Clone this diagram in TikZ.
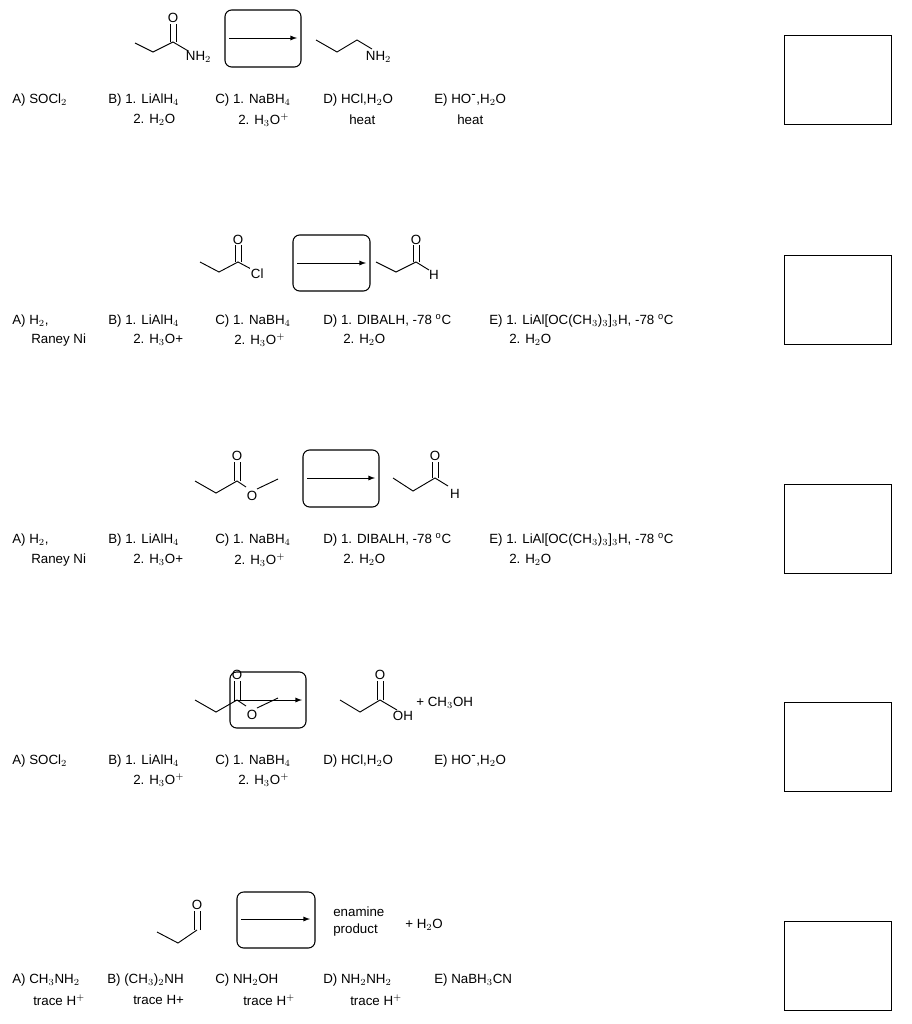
\documentclass[tikz,border=0pt]{standalone}
\usepackage{fontspec}
\setmainfont{Liberation Sans}
\begin{document}
\begin{tikzpicture}[x=0.75pt,y=-0.75pt,
  t/.style={anchor=west,inner sep=0pt,font=\fontsize{10}{12}\selectfont,align=left},
  atm/.style={inner sep=0.5pt,font=\fontsize{10}{12}\selectfont,fill=white},
  bond/.style={line width=0.7pt},
  rbox/.style={draw,line width=0.8pt,rounded corners=5pt},
  ans/.style={draw,line width=0.9pt},
  rarr/.style={-latex,line width=0.7pt}]
\useasboundingbox (0,0) rectangle (911,1024);
% answer boxes
\node[ans,minimum width=80pt,minimum height=67pt] (ab1) at (838,80) {};
\node[ans,minimum width=80pt,minimum height=67pt] (ab2) at (838,300) {};
\node[ans,minimum width=80pt,minimum height=67pt] (ab3) at (838,529) {};
\node[ans,minimum width=80pt,minimum height=67pt] (ab4) at (838,747) {};
\node[ans,minimum width=80pt,minimum height=67pt] (ab5) at (838,966) {};

% ===== Row 1 =====
\draw[bond] (135,43)--(153,52)--(173,42)--(190,52);
\draw[bond] (170,42)--(170,24) (176,42)--(176,24);
\node[atm] (o1) at (173,18) {O};
\node[atm,anchor=west] (n1) at (185,57) {NH$_2$};
\draw[rbox] (225,10) rectangle (301,67);
\coordinate (a1s) at (229,38); \coordinate (a1e) at (297,38);
\draw[rarr] (a1s)--(a1e);
\draw[bond] (316,40)--(337,52)--(357,40)--(372,49);
\node[atm,anchor=west] (n2) at (365,57) {NH$_2$};
\node[t] at (12,100) {A) SOCl$_2$};
\node[t] at (108,100) {B) 1. LiAlH$_4$};
\node[t] at (133,120) {2. H$_2$O};
\node[t] at (215,100) {C) 1. NaBH$_4$};
\node[t] at (238,120) {2. H$_3$O$^+$};
\node[t] at (323,100) {D) HCl,H$_2$O};
\node[t] at (349,120) {heat};
\node[t] at (434,100) {E) HO$^{\mbox{-}}$,H$_2$O};
\node[t] at (457,120) {heat};

% ===== Row 2 =====
\draw[bond] (200,262)--(219,272)--(238,262)--(253,270);
\draw[bond] (235,262)--(235,245) (241,262)--(241,245);
\node[atm] (o2) at (238,240) {O};
\node[atm,anchor=west] (cl) at (250,274) {Cl};
\draw[rbox] (293,235) rectangle (370,291);
\draw[rarr] (297,263)--(366,263);
\draw[bond] (376,262)--(396,272)--(416,262)--(429,270);
\draw[bond] (413,262)--(413,245) (419,262)--(419,245);
\node[atm] (o3) at (416,240) {O};
\node[atm] (h2) at (434,275) {H};
\node[t] at (12,321) {A) H$_2$,};
\node[t] at (31,340) {Raney Ni};
\node[t] at (108,321) {B) 1. LiAlH$_4$};
\node[t] at (133,340) {2. H$_3$O+};
\node[t] at (215,321) {C) 1. NaBH$_4$};
\node[t] at (234,340) {2. H$_3$O$^+$};
\node[t] at (323,321) {D) 1. DIBALH, -78 $^{\mathrm{o}}$C};
\node[t] at (343,340) {2. H$_2$O};
\node[t] at (489,321) {E) 1. LiAl[OC(CH$_3$)$_3$]$_3$H, -78 $^{\mathrm{o}}$C};
\node[t] at (509,340) {2. H$_2$O};

% ===== Row 3 =====
\draw[bond] (195,481)--(216,493)--(237,481)--(246,487);
\draw[bond] (257,489)--(278,479);
\draw[bond] (234,481)--(234,462) (240,481)--(240,462);
\node[atm] (o4) at (237,456) {O};
\node[atm] (o5) at (252,496) {O};
\draw[rbox] (303,450) rectangle (379,507);
\draw[rarr] (307,478)--(375,478);
\draw[bond] (393,478)--(413,491)--(435,478)--(448,486);
\draw[bond] (432,478)--(432,462) (438,478)--(438,462);
\node[atm] (o6) at (435,456) {O};
\node[atm] (h3) at (455,494) {H};
\node[t] at (12,540) {A) H$_2$,};
\node[t] at (31,560) {Raney Ni};
\node[t] at (108,540) {B) 1. LiAlH$_4$};
\node[t] at (133,560) {2. H$_3$O+};
\node[t] at (215,540) {C) 1. NaBH$_4$};
\node[t] at (234,560) {2. H$_3$O$^+$};
\node[t] at (323,540) {D) 1. DIBALH, -78 $^{\mathrm{o}}$C};
\node[t] at (343,560) {2. H$_2$O};
\node[t] at (489,540) {E) 1. LiAl[OC(CH$_3$)$_3$]$_3$H, -78 $^{\mathrm{o}}$C};
\node[t] at (509,560) {2. H$_2$O};

% ===== Row 4 =====
\draw[bond] (195,700)--(216,712)--(237,700)--(246,706);
\draw[bond] (257,708)--(278,698);
\draw[bond] (234,700)--(234,681) (240,700)--(240,681);
\node[atm] (o7) at (237,675) {O};
\node[atm] (o8) at (252,715) {O};
\draw[rbox] (230,672) rectangle (306,728);
\draw[rarr] (234,700)--(302,700);
\draw[bond] (340,700)--(360,712)--(380,700)--(397,710);
\draw[bond] (377,700)--(377,681) (383,700)--(383,681);
\node[atm] (o9) at (380,675) {O};
\node[atm,anchor=west] (oh) at (392,716) {OH};
\node[t] at (416,703) {+ CH$_3$OH};
\node[t] at (12,761) {A) SOCl$_2$};
\node[t] at (108,761) {B) 1. LiAlH$_4$};
\node[t] at (133,780) {2. H$_3$O$^+$};
\node[t] at (215,761) {C) 1. NaBH$_4$};
\node[t] at (238,780) {2. H$_3$O$^+$};
\node[t] at (323,761) {D) HCl,H$_2$O};
\node[t] at (434,761) {E) HO$^{\mbox{-}}$,H$_2$O};

% ===== Row 5 =====
\draw[bond] (157,932)--(178,943)--(197,930);
\draw[bond] (194,930)--(194,911) (200,930)--(200,911);
\node[atm] (o10) at (197,905) {O};
\draw[rbox] (237,892) rectangle (315,948);
\draw[rarr] (241,919)--(310,919);
\node[t] at (333,912) {enamine};
\node[t] at (333,930) {product};
\node[t] at (405,925) {+ H$_2$O};
\node[t] at (12,980) {A) CH$_3$NH$_2$};
\node[t] at (33,1000) {trace H$^+$};
\node[t] at (107,980) {B) (CH$_3$)$_2$NH};
\node[t] at (133,1000) {trace H+};
\node[t] at (215,980) {C) NH$_2$OH};
\node[t] at (243,1000) {trace H$^+$};
\node[t] at (323,980) {D) NH$_2$NH$_2$};
\node[t] at (350,1000) {trace H$^+$};
\node[t] at (434,980) {E) NaBH$_3$CN};
\end{tikzpicture}
\end{document}
